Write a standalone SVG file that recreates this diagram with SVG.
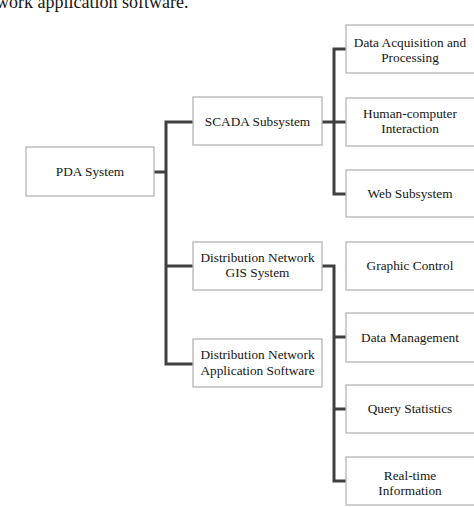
<svg xmlns="http://www.w3.org/2000/svg" width="474" height="507" viewBox="0 0 474 507">
<style>
.box{fill:#fff;stroke:#b4b4b4;stroke-width:1.3}
.t{font-family:"Liberation Serif","Times New Roman",serif;font-size:13.3px;fill:#151515;text-anchor:middle}
.cap{font-family:"Liberation Serif","Times New Roman",serif;font-size:18px;fill:#151515}
.c{fill:none;stroke:#404040;stroke-width:3;stroke-linecap:square}
</style>
<rect width="474" height="507" fill="#fff"/>
<text class="cap" x="-4" y="8">work application software.</text>
<g id="connectors">
<path class="c" d="M155 172H166M166 122V364M166 122H192M166 266H192M166 364H192"/>
<path class="c" d="M323 122H334M334 49V194M334 49H345M334 122H345M334 194H345"/>
<path class="c" d="M323 266H334M334 266V481M334 337H345M334 409H345M334 481H345"/>
</g>
<g id="pda"><rect class="box" x="26" y="147" width="128" height="49"/><text class="t" x="90" y="176">PDA System</text></g>
<g id="scada"><rect class="box" x="193" y="97" width="129" height="48"/><text class="t" x="257.5" y="126">SCADA Subsystem</text></g>
<g id="gis"><rect class="box" x="193" y="242" width="129" height="48"/><text class="t" x="257.5" y="262">Distribution Network</text><text class="t" x="257.5" y="277">GIS System</text></g>
<g id="app"><rect class="box" x="193" y="339" width="129" height="48"/><text class="t" x="257.5" y="359">Distribution Network</text><text class="t" x="257.5" y="375">Application Software</text></g>
<g id="daq"><rect class="box" x="346" y="25" width="130" height="48"/><text class="t" x="410" y="47">Data Acquisition and</text><text class="t" x="410" y="62">Processing</text></g>
<g id="hci"><rect class="box" x="346" y="98" width="130" height="48"/><text class="t" x="410" y="118">Human-computer</text><text class="t" x="410" y="133">Interaction</text></g>
<g id="web"><rect class="box" x="346" y="170" width="130" height="47"/><text class="t" x="410" y="198">Web Subsystem</text></g>
<g id="gc"><rect class="box" x="346" y="242" width="130" height="48"/><text class="t" x="410" y="270">Graphic Control</text></g>
<g id="dm"><rect class="box" x="346" y="313" width="130" height="49"/><text class="t" x="410" y="342">Data Management</text></g>
<g id="qs"><rect class="box" x="346" y="385" width="130" height="48"/><text class="t" x="410" y="413">Query Statistics</text></g>
<g id="rti"><rect class="box" x="346" y="457" width="130" height="48"/><text class="t" x="410" y="480">Real-time</text><text class="t" x="410" y="495">Information</text></g>
</svg>
